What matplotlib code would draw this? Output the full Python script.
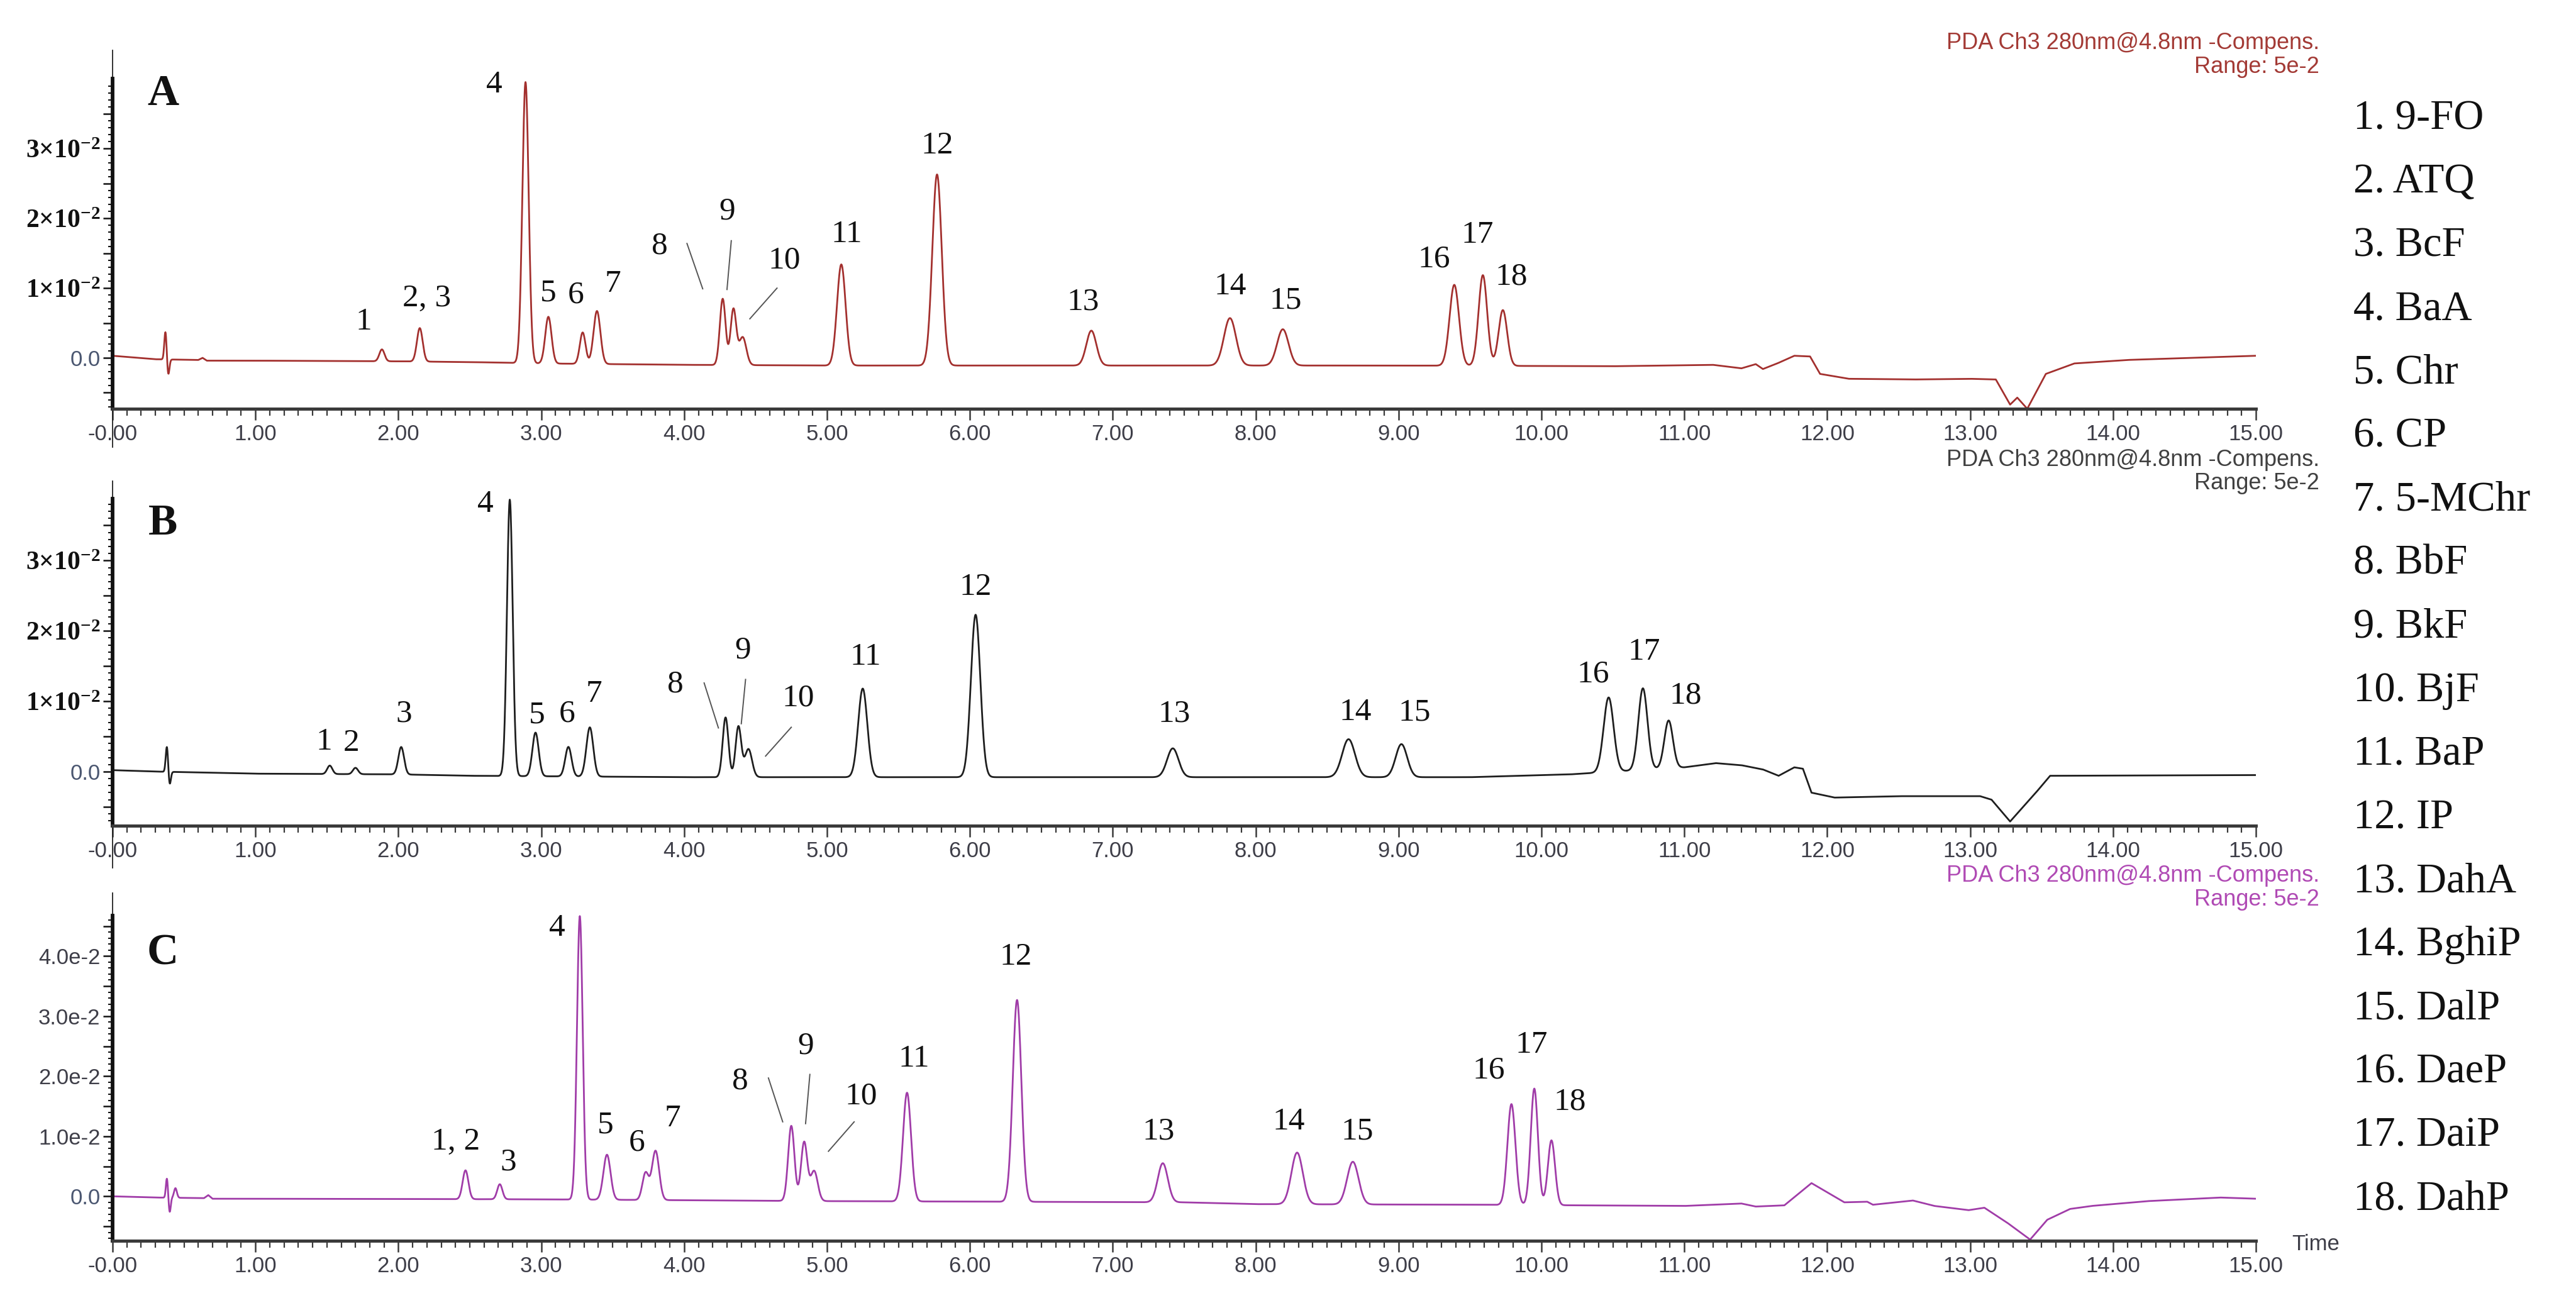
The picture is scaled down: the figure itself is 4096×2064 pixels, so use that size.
import numpy as np
import matplotlib
matplotlib.use("Agg")
from matplotlib import pyplot as plt
from matplotlib import font_manager
from matplotlib.lines import Line2D
from matplotlib.ticker import MultipleLocator, FixedLocator

# fuentes disponibles
nombres = set(f.name for f in font_manager.fontManager.ttflist)
if "Liberation Sans Narrow" in nombres:
    sans = "Liberation Sans Narrow"
    k = 1.12
else:
    sans = "Liberation Sans"
    k = 1.0
serif = "Liberation Serif"

compuestos = ["9-FO", "ATQ", "BcF", "BaA", "Chr", "CP", "5-MChr", "BbF", "BkF",
              "BjF", "BaP", "IP", "DahA", "BghiP", "DalP", "DaeP", "DaiP", "DahP"]

tiempo_ticks = ["-0.00", "1.00", "2.00", "3.00", "4.00", "5.00", "6.00", "7.00",
                "8.00", "9.00", "10.00", "11.00", "12.00", "13.00", "14.00", "15.00"]

# panel A: linea base (min, AU)
base_t_A = [0, 0.3, 0.6, 0.63, 0.66, 1.0, 2.0, 2.5, 3.0, 4.0, 5.0, 9.0, 10.5, 11.2,
            11.4, 11.5, 11.55, 11.65, 11.77, 11.88, 11.95, 12.15, 12.6, 13.0, 13.18,
            13.28, 13.33, 13.40, 13.53, 13.73, 14.1, 15.0]
base_y_A = [0.0003, -0.0002, -0.0003, 0.0000, -0.0004, -0.0004, -0.0005, -0.0006,
            -0.0008, -0.0010, -0.0011, -0.0011, -0.0012, -0.0010, -0.0015, -0.0009,
            -0.0016, -0.0008, 0.0003, 0.0002, -0.0023, -0.0030, -0.0031, -0.0030,
            -0.0031, -0.0067, -0.0057, -0.0073, -0.0023, -0.0008, -0.0003, 0.0003]
# picos A: tiempo, altura, ancho
pico_t_A = [0.37, 0.39, 1.885, 2.15, 2.89, 3.05, 3.29, 3.39, 4.27, 4.345, 4.41,
            5.10, 5.77, 6.85, 7.82, 8.19, 9.39, 9.59, 9.73]
pico_h_A = [0.0040, -0.0022, 0.0017, 0.0048, 0.0403, 0.0067, 0.0045, 0.0076, 0.0095,
            0.0080, 0.0040, 0.0145, 0.0274, 0.0050, 0.0068, 0.0052, 0.0116, 0.0130, 0.0080]
pico_s_A = [0.008, 0.008, 0.018, 0.02, 0.022, 0.022, 0.02, 0.024, 0.02, 0.02, 0.025,
            0.03, 0.033, 0.035, 0.042, 0.04, 0.033, 0.03, 0.03]
etiq_A = ["1", "2, 3", "4", "5", "6", "7", "8", "9", "10", "11", "12", "13", "14",
          "15", "16", "17", "18"]
etiq_t_A = [1.76, 2.20, 2.67, 3.05, 3.24, 3.50, 3.83, 4.30, 4.70, 5.14, 5.77, 6.79,
            7.82, 8.21, 9.25, 9.55, 9.79]
etiq_y_A = [0.0052, 0.0085, 0.0392, 0.0093, 0.0090, 0.0106, 0.0160, 0.0210, 0.0140,
            0.0177, 0.0304, 0.0080, 0.0102, 0.0082, 0.0141, 0.0176, 0.0116]
guia_A = [[4.02, 4.13, 0.0164, 0.0099], [4.33, 4.30, 0.0168, 0.0098],
          [4.65, 4.46, 0.0100, 0.0056]]

# panel B
base_t_B = [0, 0.3, 0.8, 1.0, 2.0, 2.5, 4.0, 9.5, 10.2, 11.0, 11.22, 11.4, 11.55,
            11.66, 11.77, 11.83, 11.89, 12.05, 12.5, 13.07, 13.15, 13.28, 13.46,
            13.56, 15.0]
base_y_B = [0.0002, 0.0, -0.0002, -0.0003, -0.0004, -0.0006, -0.0008, -0.0008, -0.0004,
            0.0006, 0.0012, 0.0009, 0.0003, -0.0006, 0.0006, 0.0004, -0.0030, -0.0037,
            -0.0035, -0.0035, -0.0040, -0.0071, -0.0030, -0.0006, -0.0005]
pico_t_B = [0.38, 0.40, 1.52, 1.70, 2.02, 2.78, 2.96, 3.19, 3.34, 4.29, 4.38, 4.45,
            5.25, 6.04, 7.42, 8.65, 9.02, 10.47, 10.71, 10.89]
pico_h_B = [0.0036, -0.0018, 0.0012, 0.0009, 0.0039, 0.0393, 0.0062, 0.0042, 0.0070,
            0.0085, 0.0072, 0.0040, 0.0126, 0.0231, 0.0041, 0.0054, 0.0047, 0.0106,
            0.0116, 0.0068]
pico_s_B = [0.008, 0.008, 0.018, 0.018, 0.02, 0.02, 0.022, 0.022, 0.024, 0.02, 0.02,
            0.025, 0.032, 0.033, 0.04, 0.045, 0.04, 0.035, 0.032, 0.03]
etiq_B = ["1", "2", "3", "4", "5", "6", "7", "8", "9", "10", "11", "12", "13", "14",
          "15", "16", "17", "18"]
etiq_t_B = [1.48, 1.67, 2.04, 2.61, 2.97, 3.18, 3.37, 3.94, 4.41, 4.80, 5.27, 6.04,
            7.43, 8.70, 9.11, 10.36, 10.72, 11.01]
etiq_y_B = [0.0042, 0.0040, 0.0082, 0.0380, 0.0080, 0.0082, 0.0110, 0.0124, 0.0172,
            0.0104, 0.0163, 0.0262, 0.0082, 0.0084, 0.0084, 0.0138, 0.0170, 0.0108]
guia_B = [[4.14, 4.24, 0.0126, 0.0062], [4.43, 4.40, 0.0131, 0.0068],
          [4.75, 4.57, 0.0063, 0.0022]]

# panel C
base_t_C = [0, 0.3, 0.64, 0.67, 0.70, 1.0, 3.0, 5.0, 7.5, 8.0, 9.5, 11.0, 11.4, 11.5,
            11.7, 11.89, 12.12, 12.28, 12.32, 12.6, 12.75, 12.99, 13.1, 13.26, 13.42,
            13.54, 13.7, 13.85, 14.24, 14.75, 15.0]
base_y_C = [0.0, -0.0002, -0.0003, 0.0002, -0.0004, -0.0004, -0.0005, -0.0008,
            -0.0010, -0.0013, -0.0014, -0.0016, -0.0012, -0.0017, -0.0015, 0.0022,
            -0.0010, -0.0009, -0.0014, -0.0007, -0.0016, -0.0023, -0.0019, -0.0044,
            -0.0072, -0.0039, -0.0021, -0.0016, -0.0008, -0.0002, -0.0004]
pico_t_C = [0.38, 0.40, 0.44, 2.47, 2.71, 3.27, 3.46, 3.73, 3.80, 4.75, 4.84, 4.91,
            5.56, 6.33, 7.35, 8.29, 8.68, 9.79, 9.95, 10.07]
pico_h_C = [0.0032, -0.0024, 0.0016, 0.0048, 0.0025, 0.0472, 0.0075, 0.0045, 0.0082,
            0.0125, 0.0098, 0.0050, 0.0181, 0.0336, 0.0065, 0.0086, 0.0071, 0.0168,
            0.0194, 0.0108]
pico_s_C = [0.007, 0.007, 0.01, 0.02, 0.018, 0.02, 0.025, 0.022, 0.025, 0.022, 0.022,
            0.025, 0.028, 0.03, 0.035, 0.04, 0.04, 0.028, 0.025, 0.025]
etiq_C = ["1, 2", "3", "4", "5", "6", "7", "8", "9", "10", "11", "12", "13", "14",
          "15", "16", "17", "18"]
etiq_t_C = [2.40, 2.77, 3.11, 3.45, 3.67, 3.92, 4.39, 4.85, 5.24, 5.61, 6.32, 7.32,
            8.23, 8.71, 9.63, 9.93, 10.20]
etiq_y_C = [0.0091, 0.0057, 0.0447, 0.0118, 0.0089, 0.0129, 0.0192, 0.0250, 0.0167,
            0.0229, 0.0398, 0.0108, 0.0124, 0.0108, 0.0210, 0.0252, 0.0157]
guia_C = [[4.59, 4.69, 0.0197, 0.0124], [4.88, 4.85, 0.0203, 0.0121],
          [5.19, 5.01, 0.0124, 0.0075]]

cabecera = ["PDA Ch3 280nm@4.8nm -Compens.", "Range: 5e-2"]


def senal(t, bt, by, pt, ph, ps):
    y = np.interp(t, bt, by)
    for p, h, s in zip(pt, ph, ps):
        y = y + h * np.exp(-0.5 * ((t - p) / s) ** 2)
    return y


W, H = 4096, 2064
fig = plt.figure(figsize=(W / 100, H / 100), dpi=100)

t = np.linspace(0, 15, 7501)

paneles = [
    dict(letra="A", bt=base_t_A, by=base_y_A, pt=pico_t_A, ph=pico_h_A, ps=pico_s_A,
         et=etiq_A, ex=etiq_t_A, ey=etiq_y_A, gu=guia_A, col="#a3302e", hcol="#a33a35",
         top=80, bot=650, ylim=(-0.0073, 0.0441), grueso=0.040, minmax=0.040,
         ymax_lab=0.03, estilo="x10", ext=0.107, letra_y=167, cab_y=69),
    dict(letra="B", bt=base_t_B, by=base_y_B, pt=pico_t_B, ph=pico_h_B, ps=pico_s_B,
         et=etiq_B, ex=etiq_t_B, ey=etiq_y_B, gu=guia_B, col="#1e1e1e", hcol="#404040",
         top=765, bot=1313, ylim=(-0.0077, 0.0413), grueso=0.0388, minmax=0.0385,
         ymax_lab=0.03, estilo="x10", ext=0.122, letra_y=850, cab_y=731),
    dict(letra="C", bt=base_t_C, by=base_y_C, pt=pico_t_C, ph=pico_h_C, ps=pico_s_C,
         et=etiq_C, ex=etiq_t_C, ey=etiq_y_C, gu=guia_C, col="#a03ca8", hcol="#b04ab4",
         top=1420, bot=1973, ylim=(-0.0074, 0.0505), grueso=0.0467, minmax=0.0465,
         ymax_lab=0.04, estilo="e", ext=0.0, letra_y=1533, cab_y=1393),
]

x0, x1 = 179, 3587
for p in paneles:
    ax = fig.add_axes([x0 / W, 1 - p["bot"] / H, (x1 - x0) / W, (p["bot"] - p["top"]) / H])
    y = senal(t, p["bt"], p["by"], p["pt"], p["ph"], p["ps"])
    ax.plot(t, y, color=p["col"], lw=2.0, solid_joinstyle="round")
    ax.set_xlim(0, 15)
    ax.set_ylim(*p["ylim"])

    for s in ["top", "right"]:
        ax.spines[s].set_visible(False)
    ax.spines["left"].set_bounds(p["ylim"][0], p["grueso"])
    ax.spines["left"].set_linewidth(4.2)
    ax.spines["left"].set_color("#111111")
    ax.spines["bottom"].set_linewidth(3.6)
    ax.spines["bottom"].set_color("#3a3a3a")
    # linea fina del eje vertical
    ax.add_line(Line2D([0, 0], [-p["ext"], 1], transform=ax.transAxes, color="#222222",
                       lw=1.3, clip_on=False))

    # eje x
    ax.set_xticks(range(16))
    ax.set_xticklabels(tiempo_ticks)
    ax.xaxis.set_minor_locator(MultipleLocator(0.1))
    ax.tick_params(axis="x", which="major", length=13, width=1.8, color="#3a3a3a",
                   pad=4, labelsize=25 * k, labelcolor="#3e3e48")
    ax.tick_params(axis="x", which="minor", length=8, width=1.6, color="#3a3a3a")
    for lab in ax.get_xticklabels():
        lab.set_fontfamily(sans)

    # eje y: marcas cada 0.005, etiqueta cada 0.01
    mayores = np.arange(-0.005, p["minmax"], 0.005)
    ax.set_yticks(mayores)
    etiqs = []
    for v in mayores:
        n = int(round(v * 100, 1) * 10)
        if n % 10 != 0 or v < -0.001 or v > p["ymax_lab"] + 0.001:
            etiqs.append("")
        elif n == 0:
            etiqs.append("0.0")
        elif p["estilo"] == "x10":
            etiqs.append(r"$\mathregular{%d{\times}10^{-2}}$" % (n // 10))
        else:
            etiqs.append("%d.0e-2" % (n // 10))
    ax.set_yticklabels(etiqs)
    ax.yaxis.set_minor_locator(FixedLocator(np.arange(-0.007, p["minmax"], 0.001)))
    ax.tick_params(axis="y", which="major", length=11, width=1.8, color="#111111", pad=3)
    ax.tick_params(axis="y", which="minor", length=5, width=1.5, color="#111111")
    for lab in ax.get_yticklabels():
        if lab.get_text() in ("0.0",) or p["estilo"] == "e":
            lab.set_fontfamily(sans)
            lab.set_fontsize(25 * k)
            lab.set_color("#4a5670" if lab.get_text() == "0.0" else "#3e3e48")
        else:
            lab.set_fontfamily(serif)
            lab.set_fontsize(30)
            lab.set_fontweight("bold")
            lab.set_color("#111111")

    # etiquetas de picos
    for txt, xe, ye in zip(p["et"], p["ex"], p["ey"]):
        ax.text(xe, ye, txt, ha="center", va="center", fontsize=37, family=serif,
                color="#111111")
    for g in p["gu"]:
        ax.plot(g[:2], g[2:], color="#555555", lw=1.4)

    fig.text(259 / W, 1 - p["letra_y"] / H, p["letra"], ha="center", va="baseline",
             fontsize=50, family=serif, fontweight="bold", color="#111111")
    fig.text(3688 / W, 1 - p["cab_y"] / H, cabecera[0], ha="right", va="center",
             fontsize=26 * k, family=sans, color=p["hcol"])
    fig.text(3688 / W, 1 - (p["cab_y"] + 38) / H, cabecera[1], ha="right", va="center",
             fontsize=26 * k, family=sans, color=p["hcol"])

fig.text(3644 / W, 1 - 1978 / H, "Time", ha="left", va="center", fontsize=25 * k,
         family=sans, color="#3e3e48")

# lista de compuestos
for i, nom in enumerate(compuestos):
    fig.text(3742 / W, 1 - (205 + i * 101.1) / H, "%d. %s" % (i + 1, nom), ha="left",
             va="baseline", fontsize=48, family=serif, color="#111111")

fig.savefig("out.png", dpi=100, facecolor="white")
